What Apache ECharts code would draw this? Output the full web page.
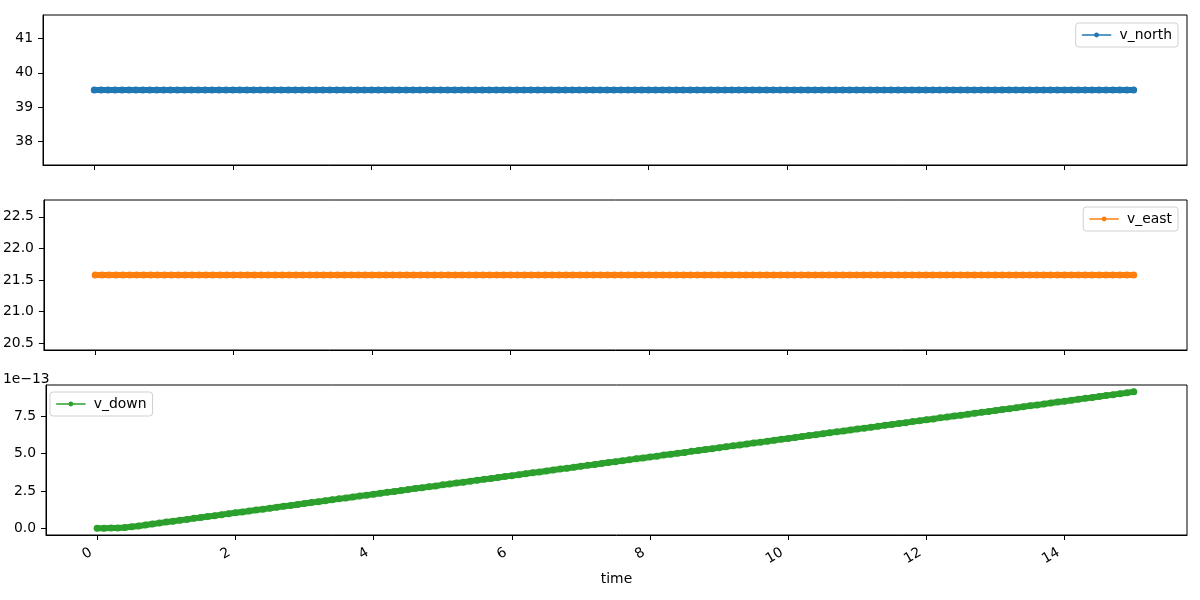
<!DOCTYPE html>
<html>
<head>
<meta charset="utf-8">
<script src="https://cdn.jsdelivr.net/npm/echarts@6/dist/echarts.min.js"></script>
<style>html,body{margin:0;padding:0;background:#fff}#c{width:1200px;height:600px}</style>
</head>
<body>
<div id="c"></div>
<script>
// ---- data ----
const time = [
0,0.1,0.2,0.3,0.4,0.5,0.6,0.7,0.8,0.9,
1,1.1,1.2,1.3,1.4,1.5,1.6,1.7,1.8,1.9,
2,2.1,2.2,2.3,2.4,2.5,2.6,2.7,2.8,2.9,
3,3.1,3.2,3.3,3.4,3.5,3.6,3.7,3.8,3.9,
4,4.1,4.2,4.3,4.4,4.5,4.6,4.7,4.8,4.9,
5,5.1,5.2,5.3,5.4,5.5,5.6,5.7,5.8,5.9,
6,6.1,6.2,6.3,6.4,6.5,6.6,6.7,6.8,6.9,
7,7.1,7.2,7.3,7.4,7.5,7.6,7.7,7.8,7.9,
8,8.1,8.2,8.3,8.4,8.5,8.6,8.7,8.8,8.9,
9,9.1,9.2,9.3,9.4,9.5,9.6,9.7,9.8,9.9,
10,10.1,10.2,10.3,10.4,10.5,10.6,10.7,10.8,10.9,
11,11.1,11.2,11.3,11.4,11.5,11.6,11.7,11.8,11.9,
12,12.1,12.2,12.3,12.4,12.5,12.6,12.7,12.8,12.9,
13,13.1,13.2,13.3,13.4,13.5,13.6,13.7,13.8,13.9,
14,14.1,14.2,14.3,14.4,14.5,14.6,14.7,14.8,14.9,
15];
const vNorth = [
39.5,39.5,39.5,39.5,39.5,39.5,39.5,39.5,39.5,39.5,
39.5,39.5,39.5,39.5,39.5,39.5,39.5,39.5,39.5,39.5,
39.5,39.5,39.5,39.5,39.5,39.5,39.5,39.5,39.5,39.5,
39.5,39.5,39.5,39.5,39.5,39.5,39.5,39.5,39.5,39.5,
39.5,39.5,39.5,39.5,39.5,39.5,39.5,39.5,39.5,39.5,
39.5,39.5,39.5,39.5,39.5,39.5,39.5,39.5,39.5,39.5,
39.5,39.5,39.5,39.5,39.5,39.5,39.5,39.5,39.5,39.5,
39.5,39.5,39.5,39.5,39.5,39.5,39.5,39.5,39.5,39.5,
39.5,39.5,39.5,39.5,39.5,39.5,39.5,39.5,39.5,39.5,
39.5,39.5,39.5,39.5,39.5,39.5,39.5,39.5,39.5,39.5,
39.5,39.5,39.5,39.5,39.5,39.5,39.5,39.5,39.5,39.5,
39.5,39.5,39.5,39.5,39.5,39.5,39.5,39.5,39.5,39.5,
39.5,39.5,39.5,39.5,39.5,39.5,39.5,39.5,39.5,39.5,
39.5,39.5,39.5,39.5,39.5,39.5,39.5,39.5,39.5,39.5,
39.5,39.5,39.5,39.5,39.5,39.5,39.5,39.5,39.5,39.5,
39.5];
const vEast = [
21.58,21.58,21.58,21.58,21.58,21.58,21.58,21.58,21.58,21.58,
21.58,21.58,21.58,21.58,21.58,21.58,21.58,21.58,21.58,21.58,
21.58,21.58,21.58,21.58,21.58,21.58,21.58,21.58,21.58,21.58,
21.58,21.58,21.58,21.58,21.58,21.58,21.58,21.58,21.58,21.58,
21.58,21.58,21.58,21.58,21.58,21.58,21.58,21.58,21.58,21.58,
21.58,21.58,21.58,21.58,21.58,21.58,21.58,21.58,21.58,21.58,
21.58,21.58,21.58,21.58,21.58,21.58,21.58,21.58,21.58,21.58,
21.58,21.58,21.58,21.58,21.58,21.58,21.58,21.58,21.58,21.58,
21.58,21.58,21.58,21.58,21.58,21.58,21.58,21.58,21.58,21.58,
21.58,21.58,21.58,21.58,21.58,21.58,21.58,21.58,21.58,21.58,
21.58,21.58,21.58,21.58,21.58,21.58,21.58,21.58,21.58,21.58,
21.58,21.58,21.58,21.58,21.58,21.58,21.58,21.58,21.58,21.58,
21.58,21.58,21.58,21.58,21.58,21.58,21.58,21.58,21.58,21.58,
21.58,21.58,21.58,21.58,21.58,21.58,21.58,21.58,21.58,21.58,
21.58,21.58,21.58,21.58,21.58,21.58,21.58,21.58,21.58,21.58,
21.58];
// v_down in units of 1e-13
const vDown = [
0,0,0.005,0.015,0.04,0.09,0.15,0.21,0.28,0.34,
0.41,0.47,0.53,0.59,0.66,0.72,0.78,0.84,0.91,0.97,
1.03,1.09,1.16,1.22,1.28,1.34,1.41,1.47,1.53,1.59,
1.66,1.72,1.78,1.84,1.91,1.97,2.03,2.09,2.16,2.22,
2.28,2.34,2.41,2.47,2.53,2.59,2.66,2.72,2.78,2.84,
2.91,2.97,3.03,3.09,3.16,3.22,3.28,3.34,3.41,3.47,
3.53,3.59,3.66,3.72,3.78,3.84,3.91,3.97,4.03,4.09,
4.16,4.22,4.28,4.34,4.41,4.47,4.53,4.59,4.66,4.72,
4.78,4.84,4.91,4.97,5.03,5.09,5.16,5.22,5.28,5.34,
5.41,5.47,5.53,5.59,5.66,5.72,5.78,5.84,5.91,5.97,
6.03,6.09,6.16,6.22,6.28,6.34,6.41,6.47,6.53,6.59,
6.66,6.72,6.78,6.84,6.91,6.97,7.03,7.09,7.16,7.22,
7.28,7.34,7.41,7.47,7.53,7.59,7.66,7.72,7.78,7.84,
7.91,7.97,8.03,8.09,8.16,8.22,8.28,8.34,8.41,8.47,
8.53,8.59,8.66,8.72,8.78,8.84,8.91,8.97,9.03,9.09,
9.16];
const xTicks = [0,2,4,6,8,10,12,14];
const yTicksNorth = [38,39,40,41];
const yTicksEast = [20.5,21.0,21.5,22.0,22.5];
const yTicksDown = [0,2.5,5.0,7.5];
const seriesNames = ['v_north','v_east','v_down'];
const colors = ['#1f77b4','#ff7f0e','#2ca02c'];

// ---- chart ----
const FONT = 'DejaVu Sans';
const FS = 13.9;
const pairs = (ys) => time.map((t, i) => [t, ys[i]]);
const grids = [
  {left:43, top:15, width:1144, height:150},
  {left:43, top:200, width:1144, height:150},
  {left:43, top:385, width:1144, height:150}
].map(g => Object.assign({show:true, borderColor:'#000', borderWidth:1, backgroundColor:'transparent'}, g));

function xAxis(idx, showLabels) {
  return {
    type:'value', gridIndex: idx, min:-0.74, max:15.77,
    axisLine:{show:true, onZero:false, lineStyle:{color:'#000', width:1}},
    axisTick:{show:true, length:5, customValues:xTicks, lineStyle:{color:'#000'}},
    axisLabel:{show:showLabels, customValues:xTicks, rotate:30, margin:13, color:'#000',
      fontFamily:FONT, fontSize:FS, padding:[0,7,0,0]},
    splitLine:{show:false},
    name: showLabels ? 'time' : '', nameLocation:'middle', nameGap:37,
    nameTextStyle:{color:'#000', fontFamily:FONT, fontSize:FS}
  };
}
function yAxis(idx, min, max, ticks, fmt, name) {
  return {
    type:'value', gridIndex: idx, min:min, max:max,
    axisLine:{show:true, onZero:false, lineStyle:{color:'#000', width:1}},
    axisTick:{show:true, length:5, customValues:ticks, lineStyle:{color:'#000'}},
    axisLabel:{customValues:ticks, margin:10, color:'#000', fontFamily:FONT, fontSize:FS, formatter:fmt},
    splitLine:{show:false},
    name: name || '', nameLocation:'end', nameGap:-1,
    nameTextStyle:{color:'#000', fontFamily:FONT, fontSize:FS, align:'left', verticalAlign:'bottom', padding:[0,0,0,-43]}
  };
}
function series(name, idx, ys, color) {
  return {
    name:name, type:'line', xAxisIndex:idx, yAxisIndex:idx, data:pairs(ys),
    color:color, symbol:'circle', symbolSize:7, showSymbol:true,
    lineStyle:{color:color, width:6, cap:'round', join:'round'},
    itemStyle:{color:color}, animation:false, silent:true
  };
}
function legend(name, pos) {
  return Object.assign({
    data:[name], orient:'vertical', itemWidth:28, itemHeight:6, itemGap:4,
    padding:[5,6,5,6], backgroundColor:'rgba(255,255,255,0.8)', borderColor:'#d0d0d0',
    borderWidth:1, borderRadius:3, lineStyle:{width:1.7},
    textStyle:{color:'#000', fontFamily:FONT, fontSize:FS, padding:[0,0,0,4]}
  }, pos);
}

const chart = echarts.init(document.getElementById('c'), null, {renderer:'canvas'});
chart.setOption({
  animation:false,
  backgroundColor:'#fff',
  grid: grids,
  xAxis:[xAxis(0,false), xAxis(1,false), xAxis(2,true)],
  yAxis:[
    yAxis(0, 37.325, 41.675, yTicksNorth, v => String(Math.round(v))),
    yAxis(1, 20.393, 22.767, yTicksEast, v => v.toFixed(1)),
    yAxis(2, -0.458, 9.618, yTicksDown, v => v.toFixed(1), '1e\u221213')
  ],
  legend:[
    legend(seriesNames[0], {right:22, top:23}),
    legend(seriesNames[1], {right:22, top:207}),
    legend(seriesNames[2], {left:50, top:392})
  ],
  series:[
    series(seriesNames[0], 0, vNorth, colors[0]),
    series(seriesNames[1], 1, vEast, colors[1]),
    series(seriesNames[2], 2, vDown, colors[2])
  ]
});
</script>
</body>
</html>
